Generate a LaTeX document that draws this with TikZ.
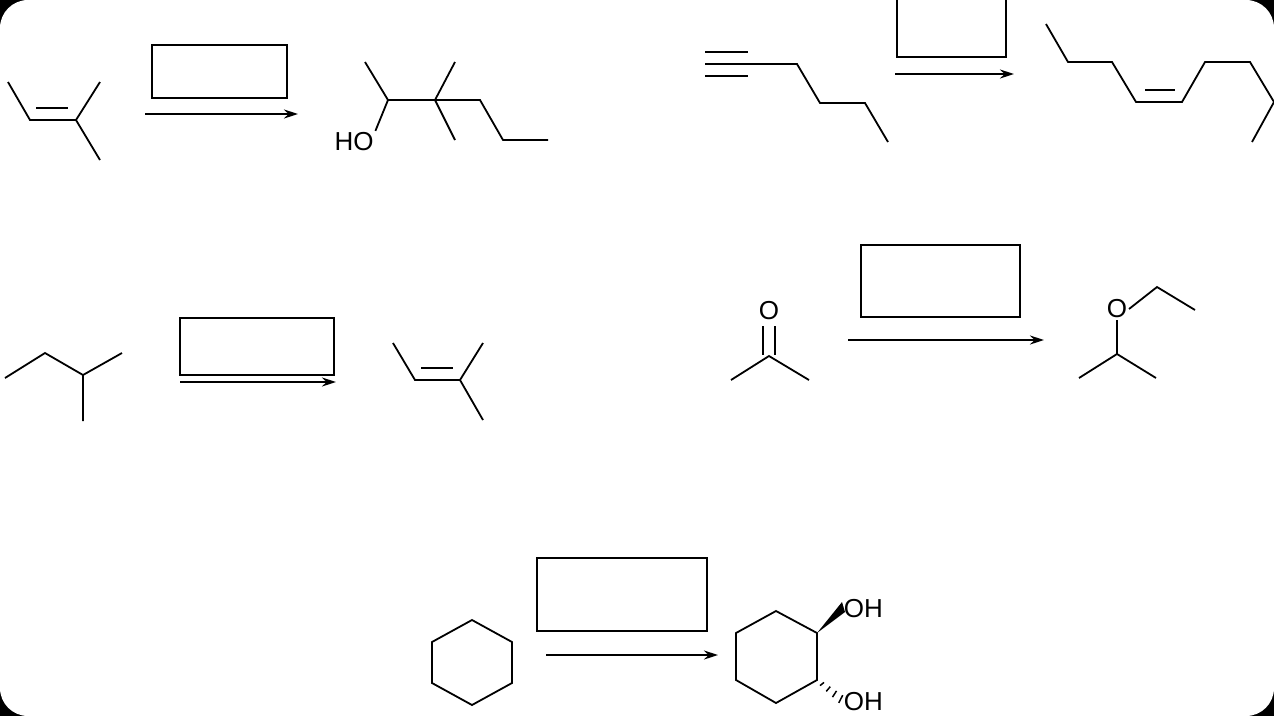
\documentclass[tikz,border=0pt]{standalone}
\usepackage{fontspec}
\setmainfont{Liberation Sans}
\usetikzlibrary{arrows.meta,calc}
\begin{document}
\begin{tikzpicture}[x=1pt,y=-1pt,line width=1.8pt,
  bond/.style={line width=1.8pt,line join=miter},
  rbox/.style={draw,line width=1.8pt},
  rarrow/.style={line width=1.8pt,-{Stealth[length=14pt,width=9pt]}},
  atom/.style={font=\fontsize{26}{26}\selectfont,inner sep=1pt}]
\fill[black] (0,0) rectangle (1274,716);
\fill[white,rounded corners=28pt] (0,0) rectangle (1274,716);
\useasboundingbox (0,0) rectangle (1274,716);
% Reaction 1
\draw[bond] (8,82)--(30,120)--(76,120)--(100,82) (76,120)--(100,160);
\draw[bond] (36,108)--(68,108);
\node[rbox,minimum width=135pt,minimum height=53pt] (b1) at (219.5,71.5) {};
\coordinate (a1s) at (145,114); \coordinate (a1e) at (298,114);
\draw[rarrow] (a1s)--(a1e);
\node[atom] (ho1) at (354,142) {HO};
\draw[bond] (365,62)--(388,100)--(435,100)--(480,100)--(503,140)--(548,140);
\draw[bond] (388,100)--(ho1.north east);
\draw[bond] (455,62)--(435,100)--(455,140);
% Reaction 2
\draw[bond] (705,52)--(748,52) (705,76)--(748,76);
\draw[bond] (705,64)--(797,64)--(820,103)--(865,103)--(888,142);
\node[rbox,minimum width=109pt,minimum height=58pt] (b2) at (951.5,28) {};
\coordinate (a2s) at (895,74); \coordinate (a2e) at (1014,74);
\draw[rarrow] (a2s)--(a2e);
\draw[bond] (1046,24)--(1068,62)--(1112,62)--(1136,102)--(1182,102)--(1205,62)--(1250,62)--(1274,102)--(1252,142);
\draw[bond] (1145,90)--(1175,90);
% Reaction 3
\draw[bond] (5,378)--(45,353)--(83,375)--(122,353) (83,375)--(83,421);
\node[rbox,minimum width=154pt,minimum height=57pt] (b3) at (257,346.5) {};
\coordinate (a3s) at (180,382); \coordinate (a3e) at (336,382);
\draw[rarrow] (a3s)--(a3e);
\draw[bond] (393,343)--(415,380)--(460,380)--(483,343) (460,380)--(483,420);
\draw[bond] (421,368)--(453,368);
% Reaction 4
\node[atom] (o4) at (769,311) {O};
\draw[bond] (763,326)--(763,355) (775,326)--(775,355);
\draw[bond] (731,380)--(769,356)--(809,380);
\node[rbox,minimum width=159pt,minimum height=72pt] (b4) at (940.5,281) {};
\coordinate (a4s) at (848,340); \coordinate (a4e) at (1044,340);
\draw[rarrow] (a4s)--(a4e);
\node[atom] (o5) at (1117,309) {O};
\draw[bond] (o5.east)--(1157,287)--(1195,310);
\draw[bond] (o5.south)--(1117,354);
\draw[bond] (1079,378)--(1117,354)--(1156,378);
% Reaction 5
\draw[bond] (472,620)--(512,642)--(512,683)--(472,705)--(432,683)--(432,642)--cycle;
\node[rbox,minimum width=170pt,minimum height=73pt] (b5) at (622,594.5) {};
\coordinate (a5s) at (546,655); \coordinate (a5e) at (718,655);
\draw[rarrow] (a5s)--(a5e);
\draw[bond] (776,611)--(817,633)--(817,680)--(776,703)--(736,680)--(736,633)--cycle;
\node[atom,anchor=west] (oh1) at (842,609) {OH};
\node[atom,anchor=west] (oh2) at (842,702) {OH};
\fill (817,633)--(842,602)--(845,612)--cycle;
\foreach \t in {0.2,0.45,0.7,0.95}
  \draw[line width=1.5pt] ($(817,680)!\t!(842,700)+(-2,3*\t+1)$)--($(817,680)!\t!(842,700)+(2,-3*\t-1)$);
\end{tikzpicture}
\end{document}
